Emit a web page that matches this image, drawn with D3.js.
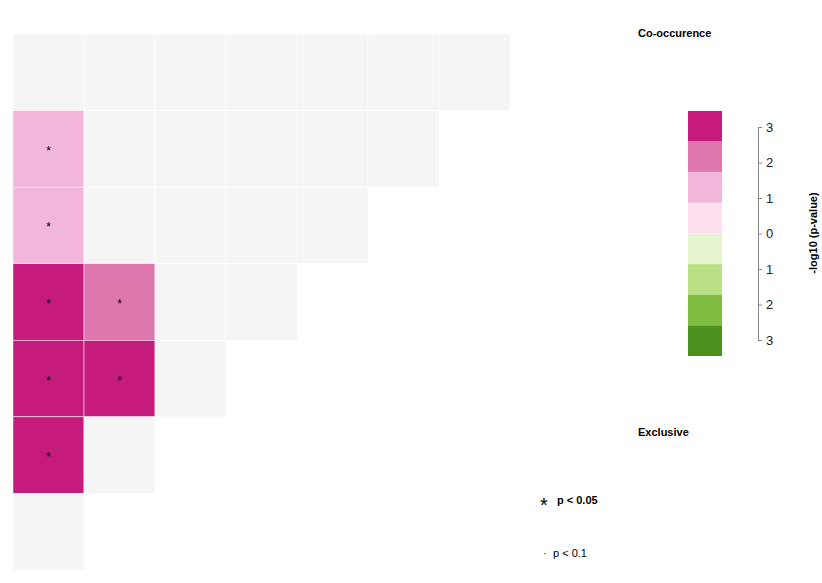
<!DOCTYPE html>
<html><head><meta charset="utf-8">
<script src="https://cdn.jsdelivr.net/npm/d3@7"></script>
<style>body{margin:0;background:#fff;font-family:"Liberation Sans",Arial,sans-serif}</style>
</head><body><div id="chart"></div>
<script>
// signed -log10(p): negative = exclusive, positive = co-occurrence, null = not significant
var rowIdx = [0, 1, 2, 3, 4, 5, 6];
var colIdx = [0, 1, 2, 3, 4, 5, 6];
var cellValues = [
  [null, null, null, null, null, null, null],
  [-1.5, null, null, null, null, null],
  [-1.5, null, null, null, null],
  [-3.5, -2.5, null, null],
  [-3.5, -3.5, null],
  [-3.5, null],
  [null]
];
var cellStars = [
  [0,0,0,0,0,0,0],
  [1,0,0,0,0,0],
  [1,0,0,0,0],
  [1,1,0,0],
  [1,1,0],
  [1,0],
  [0]
];
var legendColors = ["#c51b7d","#de77ae","#f1b6da","#fde0ef","#e6f5d0","#b8e186","#7fbc41","#4d9221"];
var legendTicks = [3, 2, 1, 0, 1, 2, 3];

var W = 822, H = 583;
var svg = d3.select("#chart").append("svg").attr("width", W).attr("height", H);

var x = d3.scaleBand().domain(colIdx).range([13, 510]);
var y = d3.scaleBand().domain(rowIdx).range([34, 570]);
var color = d3.scaleThreshold().domain([-3, -2, -1, 0, 1, 2, 3]).range(legendColors);

var cells = [];
cellValues.forEach(function (row, r) {
  row.forEach(function (v, c) { cells.push({r: r, c: c, v: v, s: cellStars[r][c]}); });
});

svg.selectAll("rect.cell").data(cells).enter().append("rect")
  .attr("class", "cell")
  .attr("x", d => x(d.c)).attr("y", d => y(d.r))
  .attr("width", x.bandwidth()).attr("height", y.bandwidth())
  .attr("fill", d => d.v == null ? "#f5f5f5" : color(d.v))
  .attr("stroke", "#ffffff").attr("stroke-width", 0.5);

svg.selectAll("text.star").data(cells.filter(d => d.s)).enter().append("text")
  .attr("x", d => x(d.c) + x.bandwidth() / 2)
  .attr("y", d => y(d.r) + y.bandwidth() / 2 + 6)
  .attr("text-anchor", "middle").attr("font-size", 12).text("*");

// legend
var ly = d3.scaleBand().domain(d3.range(legendColors.length).reverse()).range([111, 356]);
svg.selectAll("rect.leg").data(legendColors).enter().append("rect")
  .attr("x", 688).attr("width", 34)
  .attr("y", (d, i) => ly(7 - i)).attr("height", ly.bandwidth())
  .attr("fill", d => d);

var ty = d3.scalePoint().domain(d3.range(legendTicks.length)).range([127, 340]);
var ax = svg.append("g").attr("transform", "translate(758,0)")
  .call(d3.axisRight(ty).tickSize(4).tickFormat(i => legendTicks[i]));
ax.select(".domain").attr("stroke", "#888");
ax.selectAll("line").attr("stroke", "#888");
ax.selectAll("text").attr("font-size", 13).attr("fill", "#222").attr("x", 8);

svg.append("text").attr("transform", "translate(817,233) rotate(-90)")
  .attr("text-anchor", "middle").attr("font-size", 11).attr("font-weight", "bold")
  .text("-log10 (p-value)");

svg.append("text").attr("x", 638).attr("y", 37).attr("font-size", 11).attr("font-weight", "bold").text("Co-occurence");
svg.append("text").attr("x", 638).attr("y", 436).attr("font-size", 11).attr("font-weight", "bold").text("Exclusive");

svg.append("text").attr("x", 540).attr("y", 512).attr("font-size", 20).text("*");
svg.append("text").attr("x", 557).attr("y", 504).attr("font-size", 11).attr("font-weight", "bold").text("p < 0.05");
svg.append("text").attr("x", 543).attr("y", 557).attr("font-size", 11).text("·");
svg.append("text").attr("x", 553).attr("y", 557).attr("font-size", 11).text("p < 0.1");
</script></body></html>
